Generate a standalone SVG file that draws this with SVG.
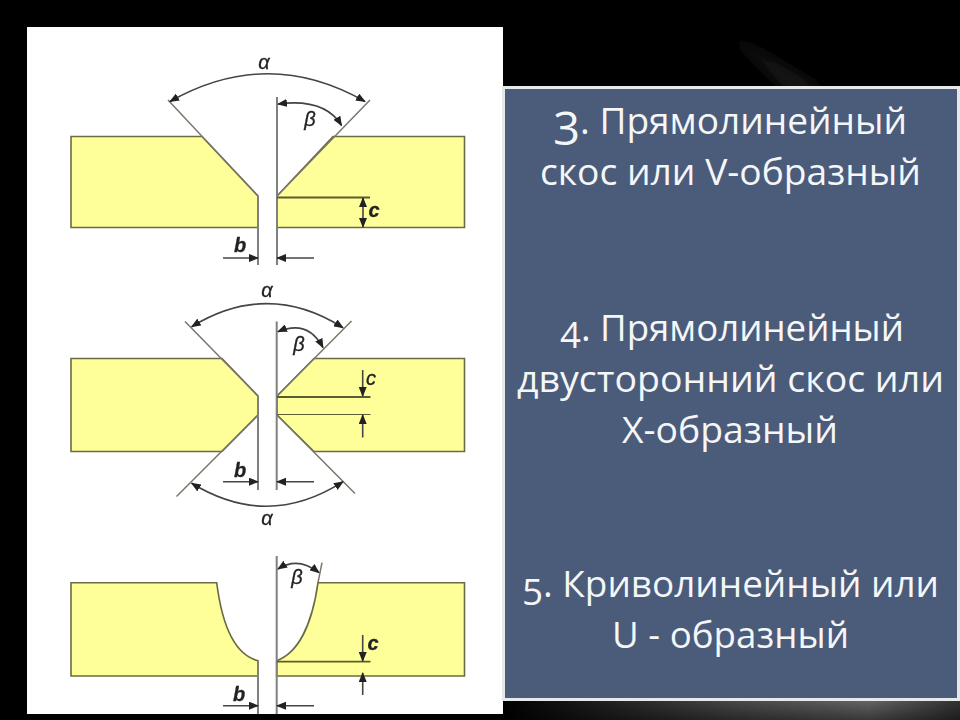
<svg xmlns="http://www.w3.org/2000/svg" width="960" height="720" viewBox="0 0 960 720">
<style>
.plate{fill:#ffff99;stroke:#6b6b45;stroke-width:1.6}
.ln{fill:none;stroke:#77776a;stroke-width:1.5}
.v{fill:none;stroke:#808080;stroke-width:2}
.dk{fill:none;stroke:#5c5c30;stroke-width:1.8}
.dim{fill:none;stroke:#444;stroke-width:1.6}
.ar{marker-end:url(#a)}
.both{marker-start:url(#as);marker-end:url(#a)}
.lb{font-family:"Liberation Sans",sans-serif;font-style:italic;font-size:20px;fill:#222;text-anchor:middle;stroke:#222;stroke-width:.3}
.bd{font-weight:700}
.t{font-family:"Open Sans","Noto Sans",sans-serif;font-size:36px;fill:#f4f6f8}
.soft{filter:url(#s)}
</style>
<defs>
<marker id="a" markerWidth="10" markerHeight="8" refX="9" refY="4" orient="auto" markerUnits="userSpaceOnUse"><path d="M0 0L10 4L0 8Z" fill="#222"/></marker>
<marker id="as" markerWidth="10" markerHeight="8" refX="1" refY="4" orient="auto" markerUnits="userSpaceOnUse"><path d="M10 0L0 4L10 8Z" fill="#222"/></marker>
<linearGradient id="bot" x1="0" x2="1" y1="0" y2="0"><stop offset="0" stop-color="#000"/><stop offset=".5" stop-color="#484848"/><stop offset=".8" stop-color="#666"/><stop offset="1" stop-color="#333"/></linearGradient>
<linearGradient id="botv" x1="0" x2="0" y1="0" y2="1"><stop offset="0" stop-color="#000" stop-opacity="0"/><stop offset="1" stop-color="#000" stop-opacity=".45"/></linearGradient>
<filter id="s" x="-5%" y="-5%" width="110%" height="110%"><feGaussianBlur stdDeviation=".45"/></filter>
<filter id="b" x="-50%" y="-50%" width="200%" height="200%"><feGaussianBlur stdDeviation="7"/></filter>
</defs>
<rect width="960" height="720" fill="#000"/>
<path d="M730 35L825 92H790Z" fill="#1e1e1e" filter="url(#b)"/>
<rect x="503" y="700" width="457" height="20" fill="url(#bot)"/>
<rect x="503" y="700" width="457" height="20" fill="url(#botv)"/>
<rect x="27" y="27" width="476" height="687" fill="#fff"/>
<rect id="panel" x="503.500" y="87.500" width="455" height="612" fill="#4b5b7a" stroke="#e6e8ea" stroke-width="3"/>

<g id="diagram-v" class="soft">
<path class="plate" d="M71 136.500H202L258 196V227.500H71Z"/>
<path class="plate" d="M464.500 136.500H333L277 196V227.500H464.500Z"/>
<path class="ln" d="M168 100L258 196M370 100L277 196"/>
<path class="v" d="M277 97V265M258 196V265"/>
<path class="dk" d="M277 197.500H370"/>
<path class="dim both" d="M363 198V227"/>
<path class="dim both" d="M170 101.500Q268 46 365 101.500"/>
<path class="dim both" d="M278 104Q325 98 341.500 125.500"/>
<path class="dim ar" d="M223 258H258"/><path class="dim ar" d="M314 258H277"/>
<text class="lb" x="264" y="69">α</text><text class="lb" x="310" y="126">β</text><text class="lb bd" x="374" y="217">c</text><text class="lb bd" x="240" y="252">b</text>
</g>

<g id="diagram-x" class="soft">
<path class="plate" d="M71 358.500H222L258 396V415L222 451.500H71Z"/>
<path class="plate" d="M464.500 358.500H314L277 396V415L314 451.500H464.500Z"/>
<path class="ln" d="M185 321.500L258 396M176.500 496.500L258 415M351.500 321L277 396M355 493.500L277 415"/>
<path class="v" d="M276.700 321.500V490M258 396V490"/>
<path class="dk" d="M277 397H370.500"/><path class="dk" style="stroke-width:1.200" d="M277 414.500H370.500"/>
<path class="dim ar" d="M362.700 370V396"/><path class="dim ar" d="M362.700 437.500V415"/>
<path class="dim both" d="M191.700 326.700Q268 280 343 327.700"/>
<path class="dim both" d="M191.700 483.300Q268 530 343 481.700"/>
<path class="dim both" d="M278 331.700Q308 319 323 347.700"/>
<path class="dim ar" d="M223 481.700H258"/><path class="dim ar" d="M314 481.700H277"/>
<text class="lb" x="267" y="297">α</text><text class="lb" x="299" y="351">β</text><text class="lb" x="371" y="385">c</text><text class="lb bd" x="240" y="477">b</text><text class="lb" x="267" y="525">α</text>
</g>

<g id="diagram-u" class="soft">
<path class="plate" d="M71 582.700H216.700C222 625 235 655 258 660.700V676H71Z"/>
<path class="plate" d="M464.500 582.700H318C312 625 298 653 276.700 660.700V676H464.500Z"/>
<path class="ln" d="M318 582.700L322 562.700"/>
<path class="v" d="M276.700 556V714M258 661V714"/>
<path class="dk" d="M277 661.700H370.500"/>
<path class="dim ar" d="M362.700 635V661"/><path class="dim ar" d="M362.700 695V673"/>
<path class="dim both" d="M278 569Q298 556 319 572.700"/>
<path class="dim ar" d="M223 705.700H258"/><path class="dim ar" d="M314 705.700H277"/>
<text class="lb" x="297" y="584">β</text><text class="lb bd" x="373" y="650">c</text><text class="lb bd" x="239" y="701">b</text>
</g>

<g id="caption">
<text class="t" x="553" y="134" textLength="354" lengthAdjust="spacingAndGlyphs"><tspan font-size="46" dy="11">3</tspan><tspan dy="-11">. Прямолинейный</tspan></text>
<text class="t" x="540" y="185" textLength="381" lengthAdjust="spacingAndGlyphs">скос или V-образный</text>
<text class="t" x="560" y="341" textLength="344" lengthAdjust="spacingAndGlyphs"><tspan dy="7">4</tspan><tspan dy="-7">. Прямолинейный</tspan></text>
<text class="t" x="517" y="392" textLength="427" lengthAdjust="spacingAndGlyphs">двусторонний скос или</text>
<text class="t" x="622" y="443" textLength="216" lengthAdjust="spacingAndGlyphs">Х-образный</text>
<text class="t" x="522" y="597" textLength="417" lengthAdjust="spacingAndGlyphs"><tspan dy="8">5</tspan><tspan dy="-8">. Криволинейный или</tspan></text>
<text class="t" x="612" y="648" textLength="237" lengthAdjust="spacingAndGlyphs">U - образный</text>
</g>
</svg>
